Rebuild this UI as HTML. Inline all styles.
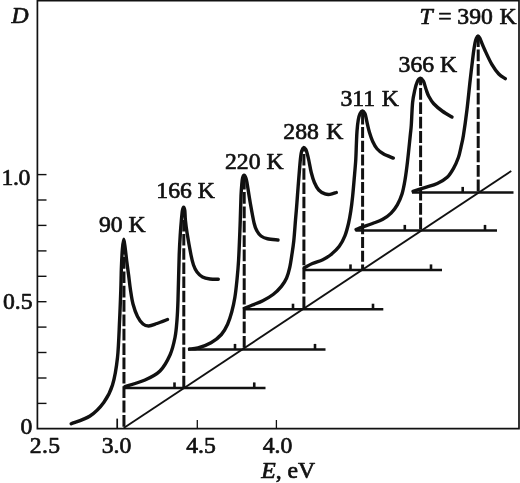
<!DOCTYPE html>
<html lang="en">
<head>
<meta charset="utf-8">
<title>D vs E, eV</title>
<style>
html,body{margin:0;padding:0;background:#fff;}
body{width:520px;height:483px;overflow:hidden;}
svg{display:block;}
</style>
</head>
<body>
<svg width="520" height="483" viewBox="0 0 520 483">
<rect width="520" height="483" fill="#fff"/>
<g fill="none" stroke="#111" stroke-linecap="butt">
<path d="M37.4,0.6 H519 V428.7 H37.4 Z" stroke-width="1.7"/>
<path d="M37.5,403.4 H46.5" stroke-width="1.4"/>
<path d="M37.5,378.0 H46.5" stroke-width="1.4"/>
<path d="M37.5,352.5 H46.5" stroke-width="1.4"/>
<path d="M37.5,327.1 H46.5" stroke-width="1.4"/>
<path d="M37.5,301.7 H46.5" stroke-width="1.4"/>
<path d="M37.5,276.3 H46.5" stroke-width="1.4"/>
<path d="M37.5,250.9 H46.5" stroke-width="1.4"/>
<path d="M37.5,225.4 H46.5" stroke-width="1.4"/>
<path d="M37.5,200.0 H46.5" stroke-width="1.4"/>
<path d="M37.5,174.6 H46.5" stroke-width="1.4"/>
<path d="M117.2,418.6 V428.7" stroke-width="1.7"/>
<path d="M197.3,420 V428.7" stroke-width="1.3"/>
<path d="M276.4,420 V428.7" stroke-width="1.3"/>
<path d="M123.75,428 L511.25,171" stroke-width="1.9"/>
<path d="M123.75,388 H265.5" stroke-width="2.6"/>
<path d="M174.5,388 V382.4" stroke-width="2.6"/>
<path d="M254.25,388 V382.4" stroke-width="2.6"/>
<path d="M188,349.5 H325.5" stroke-width="2.6"/>
<path d="M235,349.5 V343.9" stroke-width="2.6"/>
<path d="M315,349.5 V343.9" stroke-width="2.6"/>
<path d="M243.75,309.3 H383.3" stroke-width="2.6"/>
<path d="M293,309.3 V303.7" stroke-width="2.6"/>
<path d="M373,309.3 V303.7" stroke-width="2.6"/>
<path d="M303.75,270 H442" stroke-width="2.6"/>
<path d="M350.5,270 V264.4" stroke-width="2.6"/>
<path d="M431,270 V264.4" stroke-width="2.6"/>
<path d="M355.5,230.5 H497" stroke-width="2.6"/>
<path d="M404.8,230.5 V224.9" stroke-width="2.6"/>
<path d="M485,230.5 V224.9" stroke-width="2.6"/>
<path d="M412,192.5 H513.5" stroke-width="2.6"/>
<path d="M462.7,192.5 V186.9" stroke-width="2.6"/>
<path d="M123.95,240.8 V254.4 M123.95,257.0 V268.8 M123.95,271.4 V283.1 M123.95,285.7 V297.5 M123.95,300.1 V311.8 M123.95,314.4 V326.2 M123.95,328.8 V340.6 M123.95,343.2 V354.9 M123.95,357.5 V369.3 M123.95,371.9 V383.6 M123.95,386.2 V398.0 M123.95,400.6 V412.4 M123.95,415.0 V426.7" stroke-width="3"/>
<path d="M183.80,208.7 V217.3 M183.80,219.9 V231.5 M183.80,234.1 V245.6 M183.80,248.2 V259.8 M183.80,262.4 V273.9 M183.80,276.5 V288.1 M183.80,290.7 V302.3 M183.80,304.9 V316.4 M183.80,319.0 V330.6 M183.80,333.2 V344.7 M183.80,347.3 V358.9 M183.80,361.5 V373.1 M183.80,375.7 V387.2" stroke-width="3"/>
<path d="M244.20,176.8 V189.4 M244.20,192.0 V203.8 M244.20,206.4 V218.2 M244.20,220.8 V232.6 M244.20,235.2 V247.0 M244.20,249.6 V261.3 M244.20,263.9 V275.7 M244.20,278.3 V290.1 M244.20,292.7 V304.5 M244.20,307.1 V318.9 M244.20,321.5 V333.3 M244.20,335.9 V347.7" stroke-width="3"/>
<path d="M303.90,149.1 V151.4 M303.90,154.0 V165.6 M303.90,168.2 V179.8 M303.90,182.4 V194.1 M303.90,196.7 V208.3 M303.90,210.9 V222.6 M303.90,225.2 V236.8 M303.90,239.4 V251.0 M303.90,253.6 V265.3 M303.90,267.9 V279.5 M303.90,282.1 V293.8 M303.90,296.4 V308.0" stroke-width="3"/>
<path d="M362.60,112.4 V124.4 M362.60,127.0 V138.1 M362.60,140.7 V151.9 M362.60,154.5 V165.6 M362.60,168.2 V179.4 M362.60,182.0 V193.1 M362.60,195.7 V206.8 M362.60,209.4 V220.6 M362.60,223.2 V234.3 M362.60,236.9 V248.1 M362.60,250.7 V261.8 M362.60,264.4 V269.7" stroke-width="3"/>
<path d="M420.60,79.8 V85.3 M420.60,87.9 V99.7 M420.60,102.3 V114.1 M420.60,116.7 V128.5 M420.60,131.1 V142.9 M420.60,145.5 V157.3 M420.60,159.9 V171.6 M420.60,174.2 V186.0 M420.60,188.6 V200.4 M420.60,203.0 V214.8 M420.60,217.4 V229.2" stroke-width="3"/>
<path d="M478.20,37.5 V46.9 M478.20,49.5 V61.3 M478.20,63.9 V75.8 M478.20,78.4 V90.2 M478.20,92.8 V104.6 M478.20,107.2 V119.1 M478.20,121.7 V133.5 M478.20,136.1 V147.9 M478.20,150.5 V162.3 M478.20,164.9 V176.8 M478.20,179.4 V191.2" stroke-width="3"/>
<path d="M71.25,423.75 C74.38,422.46 84.58,419.54 90.00,416.00 C95.42,412.46 100.00,407.67 103.75,402.50 C107.50,397.33 110.21,392.50 112.50,385.00 C114.79,377.50 116.32,368.33 117.50,357.50 C118.68,346.67 119.05,331.25 119.60,320.00 C120.15,308.75 120.50,298.75 120.80,290.00 C121.10,281.25 121.13,274.33 121.40,267.50 C121.67,260.67 122.01,253.70 122.40,249.00 C122.79,244.30 123.27,239.30 123.75,239.30 C124.23,239.30 124.81,245.38 125.30,249.00 C125.79,252.62 126.15,256.67 126.70,261.00 C127.25,265.33 127.97,270.17 128.60,275.00 C129.23,279.83 129.77,285.17 130.50,290.00 C131.23,294.83 131.83,299.58 133.00,304.00 C134.17,308.42 135.83,313.17 137.50,316.50 C139.17,319.83 141.12,322.42 143.00,324.00 C144.88,325.58 146.42,326.08 148.75,326.00 C151.08,325.92 153.88,324.58 157.00,323.50 C160.12,322.42 165.75,320.17 167.50,319.50" stroke-width="3.4" stroke-linecap="round" stroke-linejoin="round"/>
<path d="M125.00,386.50 C128.33,385.42 139.17,382.58 145.00,380.00 C150.83,377.42 155.83,375.17 160.00,371.00 C164.17,366.83 167.50,360.58 170.00,355.00 C172.50,349.42 173.83,343.33 175.00,337.50 C176.17,331.67 176.50,326.25 177.00,320.00 C177.50,313.75 177.63,310.83 178.00,300.00 C178.37,289.17 178.80,266.25 179.20,255.00 C179.60,243.75 180.03,238.33 180.40,232.50 C180.77,226.67 181.07,223.67 181.40,220.00 C181.73,216.33 182.03,212.63 182.40,210.50 C182.77,208.37 183.20,207.20 183.60,207.20 C184.00,207.20 184.50,208.37 184.80,210.50 C185.10,212.63 185.03,216.33 185.40,220.00 C185.77,223.67 186.07,226.67 187.00,232.50 C187.93,238.33 189.92,249.58 191.00,255.00 C192.08,260.42 192.50,262.17 193.50,265.00 C194.50,267.83 195.50,270.00 197.00,272.00 C198.50,274.00 200.33,275.83 202.50,277.00 C204.67,278.17 207.37,278.62 210.00,279.00 C212.63,279.38 216.92,279.25 218.30,279.30" stroke-width="3.4" stroke-linecap="round" stroke-linejoin="round"/>
<path d="M189.50,349.00 C190.92,348.83 194.42,349.03 198.00,348.00 C201.58,346.97 207.10,345.05 211.00,342.80 C214.90,340.55 218.63,337.60 221.40,334.50 C224.17,331.40 225.87,327.98 227.60,324.20 C229.33,320.42 230.58,316.28 231.80,311.80 C233.02,307.32 234.05,302.48 234.90,297.30 C235.75,292.12 236.28,286.92 236.90,280.70 C237.52,274.48 238.07,269.28 238.60,260.00 C239.13,250.72 239.70,235.67 240.10,225.00 C240.50,214.33 240.71,202.88 241.00,196.00 C241.29,189.12 241.58,186.75 241.85,183.75 C242.12,180.75 242.24,179.41 242.60,178.00 C242.96,176.59 243.43,175.25 244.00,175.30 C244.57,175.35 245.47,176.85 246.00,178.30 C246.53,179.75 246.50,179.97 247.20,184.00 C247.90,188.03 249.03,195.92 250.20,202.50 C251.37,209.08 253.07,218.75 254.20,223.50 C255.33,228.25 255.87,228.92 257.00,231.00 C258.13,233.08 259.25,234.71 261.00,236.00 C262.75,237.29 264.67,238.08 267.50,238.75 C270.33,239.42 276.25,239.79 278.00,240.00" stroke-width="3.4" stroke-linecap="round" stroke-linejoin="round"/>
<path d="M244.50,308.30 C245.82,307.75 249.35,306.27 252.40,305.00 C255.45,303.73 259.35,302.45 262.80,300.70 C266.25,298.95 270.00,296.90 273.10,294.50 C276.20,292.10 279.15,289.05 281.40,286.30 C283.65,283.55 285.22,281.12 286.60,278.00 C287.98,274.88 288.83,271.40 289.70,267.60 C290.57,263.80 291.12,259.68 291.80,255.20 C292.48,250.72 293.18,246.57 293.80,240.70 C294.42,234.83 295.03,225.62 295.50,220.00 C295.97,214.38 296.27,211.17 296.60,207.00 C296.93,202.83 297.14,199.71 297.50,195.00 C297.86,190.29 298.38,183.54 298.75,178.75 C299.12,173.96 299.44,169.79 299.75,166.25 C300.06,162.71 300.28,160.04 300.60,157.50 C300.93,154.96 301.18,152.65 301.70,151.00 C302.22,149.35 303.02,147.85 303.70,147.60 C304.38,147.35 305.27,148.68 305.80,149.50 C306.33,150.32 306.41,150.75 306.90,152.50 C307.39,154.25 308.02,156.67 308.75,160.00 C309.48,163.33 310.31,168.75 311.25,172.50 C312.19,176.25 313.15,179.58 314.40,182.50 C315.65,185.42 316.98,188.10 318.75,190.00 C320.52,191.90 323.12,193.17 325.00,193.90 C326.88,194.63 328.12,194.63 330.00,194.40 C331.88,194.17 335.21,192.82 336.25,192.50" stroke-width="3.4" stroke-linecap="round" stroke-linejoin="round"/>
<path d="M304.20,267.80 C305.57,267.08 309.30,264.85 312.40,263.50 C315.50,262.15 319.68,261.20 322.80,259.70 C325.92,258.20 328.35,256.73 331.10,254.50 C333.85,252.27 337.00,249.40 339.30,246.30 C341.60,243.20 343.37,239.70 344.90,235.90 C346.43,232.10 347.52,227.63 348.50,223.50 C349.48,219.37 350.12,215.58 350.80,211.10 C351.48,206.62 352.05,201.78 352.60,196.60 C353.15,191.42 353.58,186.10 354.10,180.00 C354.62,173.90 355.37,166.04 355.75,160.00 C356.13,153.96 356.19,148.54 356.40,143.75 C356.61,138.96 356.69,135.21 357.00,131.25 C357.31,127.29 357.75,122.91 358.25,120.00 C358.75,117.09 359.31,115.32 360.00,113.80 C360.69,112.28 361.60,110.98 362.40,110.90 C363.20,110.82 364.20,112.20 364.80,113.30 C365.40,114.40 365.53,115.55 366.00,117.50 C366.47,119.45 367.02,122.50 367.60,125.00 C368.18,127.50 368.67,129.79 369.50,132.50 C370.33,135.21 371.35,138.54 372.60,141.25 C373.85,143.96 375.23,146.67 377.00,148.75 C378.77,150.83 380.54,152.19 383.25,153.75 C385.96,155.31 391.58,157.38 393.25,158.10" stroke-width="3.4" stroke-linecap="round" stroke-linejoin="round"/>
<path d="M356.00,229.50 C357.02,229.12 359.35,228.20 362.10,227.20 C364.85,226.20 369.05,224.82 372.50,223.50 C375.95,222.18 379.70,221.03 382.80,219.30 C385.90,217.57 388.68,215.52 391.10,213.10 C393.52,210.68 395.48,207.98 397.30,204.80 C399.12,201.62 400.72,198.13 402.00,194.00 C403.28,189.87 404.08,185.40 405.00,180.00 C405.92,174.60 406.62,169.10 407.50,161.60 C408.38,154.10 409.67,141.10 410.30,135.00 C410.93,128.90 410.92,130.42 411.30,125.00 C411.68,119.58 412.02,108.33 412.60,102.50 C413.18,96.67 414.02,93.47 414.80,90.00 C415.58,86.53 416.37,83.65 417.30,81.70 C418.23,79.75 419.40,78.42 420.40,78.30 C421.40,78.18 422.60,79.97 423.30,81.00 C424.00,82.03 424.10,83.00 424.60,84.50 C425.10,86.00 425.61,88.04 426.30,90.00 C426.99,91.96 427.51,93.96 428.75,96.25 C429.99,98.54 431.46,101.25 433.75,103.75 C436.04,106.25 439.46,109.04 442.50,111.25 C445.54,113.46 450.42,116.04 452.00,117.00" stroke-width="3.4" stroke-linecap="round" stroke-linejoin="round"/>
<path d="M413.00,191.30 C414.97,190.68 420.75,188.90 424.80,187.60 C428.85,186.30 433.57,185.22 437.30,183.50 C441.03,181.78 444.52,179.78 447.20,177.30 C449.88,174.82 451.53,171.90 453.40,168.60 C455.27,165.30 457.13,161.10 458.40,157.50 C459.67,153.90 460.17,150.67 461.00,147.00 C461.83,143.33 462.40,141.75 463.40,135.50 C464.40,129.25 465.87,118.75 467.00,109.50 C468.13,100.25 469.13,89.42 470.20,80.00 C471.27,70.58 472.60,59.17 473.40,53.00 C474.20,46.83 474.52,45.45 475.00,43.00 C475.48,40.55 475.80,39.47 476.30,38.30 C476.80,37.13 477.42,36.05 478.00,36.00 C478.58,35.95 479.27,37.08 479.80,38.00 C480.33,38.92 480.37,39.50 481.20,41.50 C482.03,43.50 483.00,46.13 484.80,50.00 C486.60,53.87 489.67,60.70 492.00,64.70 C494.33,68.70 496.58,71.67 498.80,74.00 C501.02,76.33 504.22,77.92 505.30,78.70" stroke-width="3.4" stroke-linecap="round" stroke-linejoin="round"/>
</g>
<g font-family="'Liberation Serif', 'DejaVu Serif', serif" font-size="23.7" fill="#111" stroke="#111" stroke-width="0.7" stroke-linejoin="round">
<text x="11.5" y="22.6" text-anchor="start" font-style="italic">D</text>
<text x="1.6" y="184.8" text-anchor="start" letter-spacing="-0.4">1.0</text>
<text x="2.9" y="309.3" text-anchor="start" >0.5</text>
<text x="20.5" y="433.5" text-anchor="start" >0</text>
<text x="29.8" y="453.3" text-anchor="start" letter-spacing="0.4">2.5</text>
<text x="101.7" y="453" text-anchor="start" >3.0</text>
<text x="186.2" y="452.8" text-anchor="start" >4.5</text>
<text x="262.7" y="452.8" text-anchor="start" >4.0</text>
<text x="261.2" y="478"><tspan font-style="italic">E</tspan>, eV</text>
<text x="99" y="231.8" text-anchor="start" >90 K</text>
<text x="156.3" y="198.2" text-anchor="start" >166 K</text>
<text x="225" y="169.1" text-anchor="start" >220 K</text>
<text x="283.3" y="139.4" text-anchor="start" word-spacing="1.4">288 K</text>
<text x="340.5" y="105.7" text-anchor="start" word-spacing="0.6">311 K</text>
<text x="398.6" y="71.8" text-anchor="start" >366 K</text>
<text x="419.5" y="24" font-style="italic">T</text>
<text x="438.3" y="24" text-anchor="start" >=</text>
<text x="457.3" y="24" text-anchor="start" word-spacing="0.8">390 K</text>
</g>
</svg>
</body>
</html>
